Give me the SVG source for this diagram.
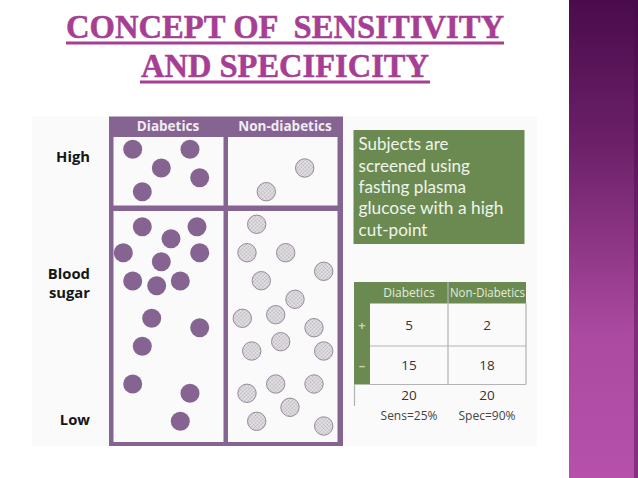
<svg xmlns="http://www.w3.org/2000/svg" width="638" height="478" viewBox="0 0 638 478">
<style>
.title{font:bold 33px "Liberation Serif",serif;fill:#a63f93;stroke:#a63f93;stroke-width:0.5;text-anchor:middle}
.axis{font:bold 14.8px "Open Sans",sans-serif;fill:#161616;text-anchor:end}
.head{font:bold 13.5px "Open Sans",sans-serif;fill:#f1ecf3;text-anchor:middle}
.box{font:17.500px Lato,sans-serif;fill:#f0f4ea}
.th{font:12px "Open Sans",sans-serif;fill:#e4ecd8;text-anchor:middle}
.td{font:13.5px "Open Sans",sans-serif;fill:#333;text-anchor:middle}
.ts{font:12px "Open Sans",sans-serif;fill:#444;text-anchor:middle}
.pm{font:bold 13px "Open Sans",sans-serif;fill:#c5d3b5;text-anchor:middle}
.d{fill:#866491}
.n{fill:url(#hatch);stroke:#97899d;stroke-width:1}
.frame{fill:#866491}
.grid{stroke:#b3b3b3;stroke-width:1.2;fill:none}
</style>
<defs>
<linearGradient id="side" x1="0" y1="0" x2="0" y2="1">
<stop offset="0" stop-color="#4a0b4c"/>
<stop offset="0.3" stop-color="#6c2068"/>
<stop offset="0.7" stop-color="#ab4aa0"/>
<stop offset="1" stop-color="#b650ab"/>
</linearGradient>
<pattern id="hatch" width="2.6" height="2.6" patternUnits="userSpaceOnUse" patternTransform="rotate(45)">
<rect width="2.6" height="2.6" fill="#e6e4e7"/>
<circle cx="1.3" cy="1.3" r="0.8" fill="#b3adb5"/>
</pattern>
</defs>
<rect width="638" height="478" fill="#fff"/>
<g id="sidebar">
<rect x="569" y="0" width="69" height="478" fill="url(#side)"/>
<rect x="634" y="0" width="4" height="478" fill="#4a0b4c" opacity="0.45"/>
</g>
<g id="title">
<text class="title" x="285" y="38" textLength="438" lengthAdjust="spacingAndGlyphs" xml:space="preserve">CONCEPT OF  SENSITIVITY</text>
<rect x="66" y="41.500" width="438" height="3" fill="#a63f93"/>
<text class="title" x="285" y="77" textLength="288" lengthAdjust="spacingAndGlyphs">AND SPECIFICITY</text>
<rect x="140" y="80.500" width="290" height="3" fill="#a63f93"/>
</g>
<rect id="panel" x="32" y="116" width="505" height="330" fill="#fafafa"/>
<g id="axis-labels">
<text class="axis" x="90" y="162">High</text>
<text class="axis" x="90" y="279">Blood</text>
<text class="axis" x="90" y="298">sugar</text>
<text class="axis" x="90" y="425">Low</text>
</g>
<g id="grid-frame">
<rect class="frame" x="109" y="116.500" width="234" height="20.500"/>
<rect class="frame" x="109" y="137" width="4.500" height="309"/>
<rect class="frame" x="337.500" y="137" width="5.500" height="309"/>
<rect class="frame" x="223.500" y="137" width="4.500" height="309"/>
<rect class="frame" x="109" y="205.500" width="234" height="5.500"/>
<rect class="frame" x="109" y="442" width="234" height="4"/>
<text class="head" x="168" y="131">Diabetics</text>
<text class="head" x="285" y="131">Non-diabetics</text>
</g>
<g id="diabetics">
<circle class="d" cx="132.700" cy="149.300" r="9.500"/>
<circle class="d" cx="190" cy="149.300" r="9.500"/>
<circle class="d" cx="161.300" cy="168" r="9.500"/>
<circle class="d" cx="199.700" cy="177.700" r="9.500"/>
<circle class="d" cx="142.300" cy="191.700" r="9.500"/>
<circle class="d" cx="142.300" cy="226.700" r="9.500"/>
<circle class="d" cx="197" cy="226.700" r="9.500"/>
<circle class="d" cx="171" cy="238.700" r="9.500"/>
<circle class="d" cx="123.300" cy="252.700" r="9.500"/>
<circle class="d" cx="199.700" cy="252.700" r="9.500"/>
<circle class="d" cx="161.300" cy="261.700" r="9.500"/>
<circle class="d" cx="132.700" cy="281" r="9.500"/>
<circle class="d" cx="156.700" cy="285.700" r="9.500"/>
<circle class="d" cx="180.300" cy="281" r="9.500"/>
<circle class="d" cx="151.700" cy="318.300" r="9.500"/>
<circle class="d" cx="199.700" cy="327.700" r="9.500"/>
<circle class="d" cx="142.300" cy="346.300" r="9.500"/>
<circle class="d" cx="132.700" cy="384" r="9.500"/>
<circle class="d" cx="190" cy="393.300" r="9.500"/>
<circle class="d" cx="180.300" cy="421.300" r="9.500"/>
</g>
<g id="non-diabetics">
<circle class="n" cx="304.700" cy="168" r="9.200"/>
<circle class="n" cx="266.300" cy="191.700" r="9.200"/>
<circle class="n" cx="256.700" cy="224.300" r="9.200"/>
<circle class="n" cx="247" cy="252.700" r="9.200"/>
<circle class="n" cx="285.700" cy="252.700" r="9.200"/>
<circle class="n" cx="323.700" cy="271.300" r="9.200"/>
<circle class="n" cx="261.300" cy="280.700" r="9.200"/>
<circle class="n" cx="295" cy="299.300" r="9.200"/>
<circle class="n" cx="242.300" cy="318.300" r="9.200"/>
<circle class="n" cx="275.700" cy="314.700" r="9.200"/>
<circle class="n" cx="314" cy="327.700" r="9.200"/>
<circle class="n" cx="280.700" cy="341.700" r="9.200"/>
<circle class="n" cx="251.700" cy="351" r="9.200"/>
<circle class="n" cx="323.700" cy="351" r="9.200"/>
<circle class="n" cx="247" cy="393.300" r="9.200"/>
<circle class="n" cx="275.700" cy="384" r="9.200"/>
<circle class="n" cx="314" cy="384" r="9.200"/>
<circle class="n" cx="290" cy="407.300" r="9.200"/>
<circle class="n" cx="256.700" cy="421.300" r="9.200"/>
<circle class="n" cx="323.700" cy="426" r="9.200"/>
</g>
<g id="note">
<rect x="353.500" y="130" width="171" height="114" fill="#6b8a52"/>
<text class="box" x="358.500" y="150" textLength="90" lengthAdjust="spacingAndGlyphs">Subjects are</text>
<text class="box" x="358.500" y="171.500" textLength="111.500" lengthAdjust="spacingAndGlyphs">screened using</text>
<text class="box" x="358.500" y="192.500" textLength="107.500" lengthAdjust="spacingAndGlyphs">fasting plasma</text>
<text class="box" x="358.500" y="214" textLength="145" lengthAdjust="spacingAndGlyphs">glucose with a high</text>
<text class="box" x="358.500" y="236" textLength="69" lengthAdjust="spacingAndGlyphs">cut-point</text>
</g>
<g id="table">
<rect x="354" y="282" width="172" height="21.500" fill="#6b8a52"/>
<rect x="354" y="282" width="16" height="102.500" fill="#6b8a52"/>
<path class="grid" d="M448 282V384M370 346H526M370 384.500H526M526 303V384.500M354.500 384V406"/>
<text class="th" x="409" y="297">Diabetics</text>
<text class="th" x="487.500" y="297" textLength="75" lengthAdjust="spacingAndGlyphs">Non-Diabetics</text>
<text class="pm" x="362" y="330">+</text>
<text class="pm" x="362" y="370">–</text>
<text class="td" x="409" y="330">5</text>
<text class="td" x="487" y="330">2</text>
<text class="td" x="409" y="370">15</text>
<text class="td" x="487" y="370">18</text>
<text class="td" x="409" y="400">20</text>
<text class="td" x="487" y="400">20</text>
<text class="ts" x="409" y="420">Sens=25%</text>
<text class="ts" x="487" y="420">Spec=90%</text>
</g>
</svg>
